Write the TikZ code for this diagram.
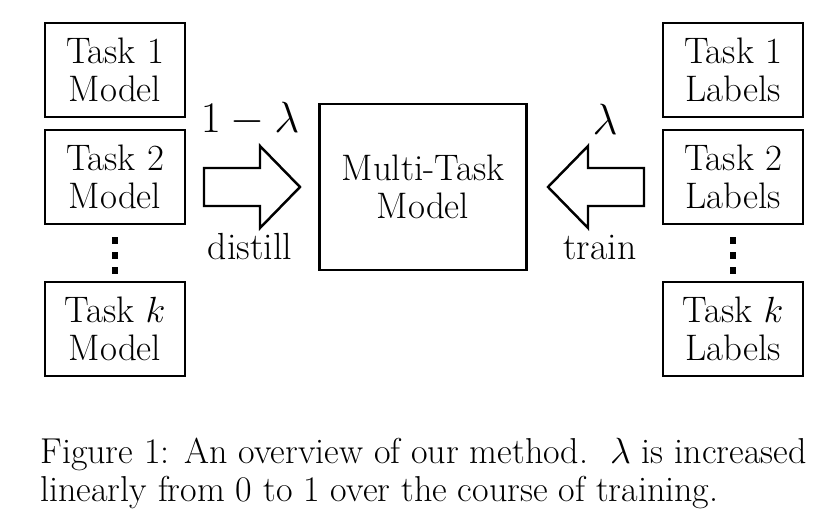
\documentclass[tikz,border=0pt]{standalone}
\usepackage{amsmath}
\begin{document}
\begin{tikzpicture}[x=0.02cm,y=-0.02cm,
  box/.style={draw,line width=1.6pt,minimum width=140*0.02cm,minimum height=94*0.02cm,align=center,inner sep=0pt,font=\fontsize{21}{21.5}\selectfont},
  lbl/.style={font=\fontsize{21.5}{21.5}\selectfont},
  captext/.style={font=\fontsize{20.5}{20.5}\selectfont,anchor=west,inner sep=0pt},
  dot/.style={fill=black}]
\useasboundingbox (0,0) rectangle (820,526);
% left column
\node[box] (m1) at (115,70) {Task 1\\Model};
\node[box] (m2) at (115,177) {Task 2\\Model};
\node[box] (mk) at (115,329) {Task $k$\\Model};
\foreach \y in {237,252,267} \fill (112,\y) rectangle (118,\y+7);
% right column
\node[box] (l1) at (733,70) {Task 1\\Labels};
\node[box] (l2) at (733,177) {Task 2\\Labels};
\node[box] (lk) at (733,329) {Task $k$\\Labels};
\foreach \y in {237,252,267} \fill (730,\y) rectangle (736,\y+7);
% center
\node[box,minimum width=207*0.02cm,minimum height=166*0.02cm] (mt) at (423,187) {Multi-Task\\Model};
% block arrows
\draw[line width=1.4pt] (204,168) -- (260,168) -- (260,146) -- (300,187) -- (260,228) -- (260,206) -- (204,206) -- cycle;
\draw[line width=1.4pt] (644,168) -- (588,168) -- (588,146) -- (548,187) -- (588,228) -- (588,206) -- (644,206) -- cycle;
\node[lbl,font=\fontsize{28}{28}\selectfont] (lam1) at (250,119) {$1-\lambda$};
\node[lbl,font=\fontsize{28}{28}\selectfont] (lam2) at (605,119) {$\lambda$};
\node[lbl] (dis) at (250,247) {distill};
\node[lbl] (tr) at (600,247) {train};
% caption
\node[captext] (c1) at (40,454) {Figure 1: An overview of our method.\ \ $\lambda$ is increased};
\node[captext] (c2) at (40,493) {linearly from 0 to 1 over the course of training.};
\end{tikzpicture}
\end{document}
